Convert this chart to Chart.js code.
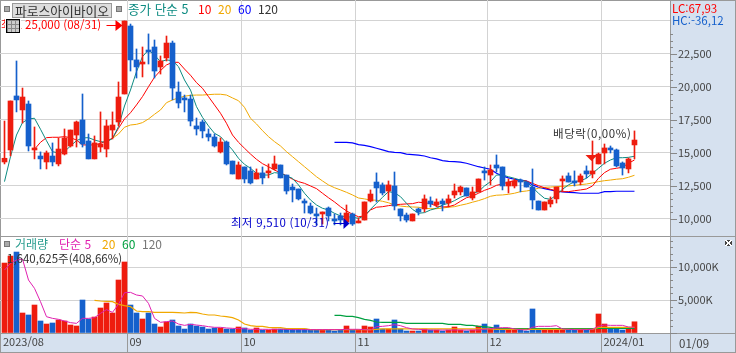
<!DOCTYPE html>
<html lang="ko">
<head>
<meta charset="utf-8">
<title>파로스아이바이오</title>
<script src="https://cdn.jsdelivr.net/npm/chart.js@4"></script>
<style>
html, body { margin: 0; padding: 0; background: #fff; }
#wrap { position: relative; width: 736px; height: 353px; overflow: hidden; font-family: "Noto Sans CJK KR", sans-serif; font-size: 11.5px; line-height: 14px; color: #333; }
#wrap span, #wrap b { position: absolute; white-space: nowrap; font-weight: normal; }
.panel { position: absolute; background: #d6e1ef; }
.line { position: absolute; background: #999; }
canvas { position: absolute; left: 0; }
#priceChart { top: 0; }
#volumeChart { top: 236px; }
#stockName { left: 12px; top: 3px; width: 98px; height: 13px; line-height: 13px; text-align: center; background: #ddd; border: 1px solid #999; font-size: 12.8px; color: #333; }
.sq { width: 4px; height: 4px; background: #aaa; border: 1px solid #777; }
#calendar { left: 6px; top: 19px; width: 12px; height: 12px; border: 1px solid #000; outline: 1px solid #fff; background-color: #ccc;
  background-image: linear-gradient(#888 1px, transparent 1px), linear-gradient(90deg, #888 1px, transparent 1px); background-size: 4px 4px; }
#zoomBtn { left: 725px; top: 240px; width: 7px; height: 6px; background-color: #444;
  background-image: linear-gradient(45deg, transparent 42%, #fff 42%, #fff 58%, transparent 58%), linear-gradient(-45deg, transparent 42%, #fff 42%, #fff 58%, transparent 58%); }
</style>
</head>
<body>
<div id="wrap">
  <div class="panel" style="left:670px;top:0;width:66px;height:353px"></div>
  <div class="panel" style="left:0;top:333px;width:670px;height:20px"></div>
  <div class="line" style="left:0;top:0;width:736px;height:1px"></div>
  <div class="line" style="left:0;top:0;width:1px;height:353px"></div>
  <div class="line" style="left:735px;top:0;width:1px;height:353px"></div>
  <div class="line" style="left:0;top:352px;width:736px;height:1px"></div>
  <div class="line" style="left:670px;top:0;width:1px;height:353px"></div>
  <div class="line" style="left:0;top:236px;width:736px;height:1px"></div>
  <div class="line" style="left:0;top:333px;width:736px;height:1px"></div>

  <canvas id="priceChart" width="736" height="236"></canvas>
  <canvas id="volumeChart" width="736" height="117"></canvas>

  <b class="sq" style="left:4px;top:6px"></b>
  <span id="stockName">파로스아이바이오</span>
  <b class="sq" style="left:116px;top:6px"></b>
  <span style="left:128px;top:2px;color:#0b8a80;font-size:12.6px">종가 단순 5</span>
  <span style="left:198px;top:2px;color:#f00;font-size:12px">10</span>
  <span style="left:218px;top:2px;color:#f0a800;font-size:12px">20</span>
  <span style="left:238px;top:2px;color:#00f;font-size:12px">60</span>
  <span style="left:258px;top:2px;color:#333;font-size:12px">120</span>

  <span style="left:1px;top:17px;color:#f00">최고</span>
  <b id="calendar"></b>
  <span style="left:25px;top:17px;color:#f00">25,000 (08/31)</span>
  <span style="left:231px;top:215px;color:#00c;letter-spacing:.25px">최저 9,510 (10/31)</span>
  <span style="left:553px;top:126px;color:#333;letter-spacing:.6px">배당락(0,00%)</span>

  <span style="left:672px;top:1px;color:#f00">LC:67,93</span>
  <span style="left:672px;top:13px;color:#1560cc">HC:-36,12</span>

  <b class="sq" style="left:4px;top:241px"></b>
  <span style="left:15px;top:237px;color:#2a9d8f;font-size:12px">거래량</span>
  <span style="left:59px;top:237px;color:#e020b0;font-size:12px">단순 5</span>
  <span style="left:102px;top:237px;color:#f0a800;font-size:12px">20</span>
  <span style="left:122px;top:237px;color:#00a040;font-size:12px">60</span>
  <span style="left:142px;top:237px;color:#777;font-size:12px">120</span>
  <span style="left:7px;top:251px;color:#333">1,640,625주(408,66%)</span>
  <b id="zoomBtn"></b>
  <span style="left:679px;top:336px;color:#444">01/09</span>
</div>

<script>
// 일봉 (2023/08 ~ 2024/01)
const opens = [14320,15230,19320,18260,18710,15230,14770,14320,14770,14170,14920,15530,16360,17500,15910,14550,15450,15300,16740,17350,19470,24620,22050,21740,22800,23030,21520,22200,23330,19620,19170,19090,17050,17350,16440,16210,15080,15830,14390,13030,13940,13640,13030,13490,13490,13790,14090,13330,12420,12270,11360,10980,10380,10380,10830,9920,10230,9770,10380,9700,9920,11360,12800,12580,12120,12500,10760,10300,9850,10760,10760,11360,11060,11360,11210,11820,12050,12350,11590,12050,13560,13330,14090,13940,12500,12500,12880,12800,12420,11360,10680,11140,11520,12880,13260,12880,12800,13640,13410,14170,15000,15300,15230,14240,13790,15610];
const highs = [17420,18940,21970,19920,18940,16970,15080,15150,15760,16140,16820,16740,17420,19470,16440,16290,18110,17500,18110,20380,25000,24770,22880,23030,24020,23560,22350,23860,23480,20380,19390,19390,17650,17500,16820,16440,16140,15910,14390,14320,13940,13940,13790,13940,14170,14770,14090,13330,12650,12270,11520,11210,10830,10530,10910,10380,10450,11060,10450,10080,11290,12200,13490,12730,12880,13560,10760,10450,10380,10830,11820,11670,11520,11520,11820,12650,12500,12350,12420,13030,13940,14090,14850,13940,13030,13030,13030,12800,13790,11360,11290,11670,12420,13260,13490,13640,13410,14020,15910,15000,15680,15530,15300,14320,14620,16670];
const lows = [14170,14770,18110,17270,15150,14550,13790,13790,14020,14020,14850,15450,15450,15450,14550,14550,15080,14700,16060,17050,19470,21210,20680,20760,21740,20680,20980,21970,19020,18410,18110,17050,16360,16140,15910,15450,15000,14090,13410,13030,12730,12650,13030,12650,13110,13710,13110,11890,11290,11440,10450,10380,9550,9620,9850,9550,9550,9550,9510,9700,9920,11290,11290,11820,11440,10680,9850,9770,9850,10300,10530,10910,10910,10610,10910,11590,11820,11740,11440,12050,12950,12580,13560,12200,11970,12350,12050,12420,10760,10680,10680,10910,11210,12120,12800,12500,12580,13110,13110,14170,14170,15000,13940,13330,13490,14550];
const closes = [14600,18940,19020,19240,15530,15350,14550,15000,14320,15300,16140,16740,17350,15680,14550,15760,15680,17050,17120,19240,25000,22050,21520,21820,22650,21210,21970,23330,19920,18790,19020,17420,16820,16670,16210,15530,15830,14170,13410,14090,13030,12730,13490,13110,13560,14170,13110,12120,12200,11520,11210,10450,10230,10450,10230,9850,9920,10450,9620,9770,11290,11890,12350,11970,12580,10980,10230,9920,10380,10530,11520,11140,11290,11140,11520,12120,12420,11740,12050,13030,13490,13710,13860,12500,12800,12880,12800,12420,11440,10680,11290,11440,12420,13030,12800,12730,13260,13410,13640,14920,15380,15230,14020,13860,14550,15980];

const ma5 = [12830,14720,16360,17300,17580,17630,16800,15930,15100,15000,15100,15530,15930,16140,16160,15980,15860,15810,16110,16990,18560,19770,21160,22300,22800,22420,21920,22050,21990,21540,20530,19770,18510,17700,17050,16490,16240,15730,15230,14600,14140,13840,13460,13330,13330,13510,13460,13260,13080,12580,11950,11440,11060,10810,10680,10430,10230,10170,10130,10050,10230,10730,11190,11640,12070,11990,11690,11190,10730,10430,10480,10680,10810,11060,11190,11390,11640,11820,11950,12070,12500,12830,13330,13330,13200,13080,12950,12830,12400,11950,11570,11490,11820,12250,12580,12830,12900,13080,13460,13840,14220,14470,14640,14640,14670,14750];
const ma10 = [null,null,null,null,null,15280,15810,16160,16190,16190,16240,16160,15980,15610,15610,15610,15730,15910,16110,16870,17580,18050,18640,19270,20020,20740,21240,21670,21870,21870,21360,20890,20330,19900,19270,18640,18010,17250,16360,15810,15360,14920,14520,14190,13960,13710,13490,13280,13010,12830,12700,12500,12300,11950,11610,11290,10930,10610,10360,10170,10230,10680,10890,10930,11010,11080,11110,11140,11160,11270,11230,11160,10980,10910,10930,11060,11340,11610,11740,11950,12170,12330,12550,12650,12800,12900,12900,12880,12700,12520,12370,12250,12120,12070,12070,12140,12200,12270,12500,13080,13510,13770,13840,13920,14220,14470];
const ma20 = [null,null,null,null,null,null,null,null,null,null,null,null,null,null,null,null,null,15860,16110,16440,16950,17120,17170,17300,17580,17930,18260,18810,19020,19170,19300,19370,19390,19390,19420,19450,19450,19390,19170,18960,18460,17630,17200,16690,16240,15860,15530,15100,14720,14340,13960,13580,13200,12880,12580,12370,12200,12020,11820,11590,11520,11440,11420,11340,11230,11060,10980,10930,10910,10890,10810,10780,10780,10830,10890,10930,11040,11140,11270,11390,11540,11720,11800,11820,11870,11950,12070,12120,12200,12330,12400,12420,12450,12480,12500,12550,12600,12650,12730,12830,12900,12950,13010,13050,13160,13310];
const ma60 = [null,null,null,null,null,null,null,null,null,null,null,null,null,null,null,null,null,null,null,null,null,null,null,null,null,null,null,null,null,null,null,null,null,null,null,null,null,null,null,null,null,null,null,null,null,null,null,null,null,null,null,null,null,null,null,15810,15810,15810,15760,15630,15580,15480,15360,15230,15100,15050,15020,14920,14870,14830,14770,14640,14550,14420,14370,14340,14300,14220,14090,13960,13860,13770,13460,13260,13110,13010,12950,12880,12580,12400,12300,12200,12100,12050,12020,11990,11950,11950,11950,11950,12070,12070,12100,12100,12100,12100];

// 거래량 (단위 K)
const volumes = [10600,11660,12270,3030,2730,4240,1820,1360,1515,1970,1820,1210,1060,5000,2120,2420,3790,4545,3030,8030,10760,4240,3030,2120,3030,1360,910,1670,1970,1060,600,1360,1060,910,600,760,760,600,600,910,760,450,760,450,450,600,600,600,600,600,600,450,450,450,450,300,450,1060,450,450,1060,910,2120,600,600,1970,600,300,300,300,600,450,450,300,450,910,450,300,450,1060,1360,600,1210,450,450,450,450,300,3640,450,450,450,600,600,450,450,450,450,600,2880,1360,600,600,450,760,1700];
const volMa5 = [9540,10550,11060,11210,8030,6770,4750,2470,2220,2070,1820,1570,1460,2220,2220,2320,2980,3540,3130,4340,6110,6160,5760,5610,4490,2220,1620,1720,1820,1360,1160,1310,1210,1110,960,860,860,760,710,660,660,560,560,560,560,560,560,560,510,510,510,510,510,510,510,510,510,560,560,560,510,450,960,1010,1110,1260,1110,810,610,560,510,450,450,450,450,450,450,450,450,450,560,660,760,810,810,610,510,450,860,1010,1010,1010,1110,610,560,510,510,510,560,1010,1210,1160,1160,1160,910,860];
const volMa20 = [null,null,null,null,null,null,null,null,null,null,null,null,null,null,null,4950,4850,4800,4750,4340,4140,3990,3330,3230,3230,3130,3130,3130,3130,3080,3030,3130,3080,2880,2730,2730,2580,2470,2320,1970,1360,1110,1010,1010,860,810,810,660,660,660,660,510,510,510,510,510,510,510,510,510,510,510,560,610,610,610,610,610,610,610,610,610,610,610,610,610,610,610,610,610,610,610,560,560,560,560,560,560,560,560,560,560,560,560,560,560,560,560,560,860,860,860,860,860,860,860];
const volMa60 = [null,null,null,null,null,null,null,null,null,null,null,null,null,null,null,null,null,null,null,null,null,null,null,null,null,null,null,null,null,null,null,null,null,null,null,null,null,null,null,null,null,null,null,null,null,null,null,null,null,null,null,null,null,null,null,2680,2680,2530,2530,2320,2070,1920,1670,1620,1620,1620,1620,1460,1460,1460,1460,1460,1460,1460,1310,1310,1310,1160,1160,1010,960,860,710,660,660,660,660,660,660,660,660,660,660,660,660,660,660,660,660,710,710,710,710,710,710,710];

// 월 구분 (봉 인덱스 사이)
const monthTicks = [-0.58, 20.5, 39.5, 58.5, 80.5, 99.5];
const monthLabels = ['2023/08', '09', '10', '11', '12', '2024/01'];

const priceTicks = [];
for (let v = 10000; v <= 25000; v += 500) priceTicks.push(v);
const volumeTicks = [];
for (let v = 0; v <= 14000; v += 1000) volumeTicks.push(v);

const RED = '#ee1c0e', BLUE = '#1560cc', GRID = '#d3d3d3', TICK = '#888', AXIS_TEXT = '#444';
const FONT = '"Noto Sans CJK KR", sans-serif';
const XMIN = -0.75, XMAX = 110.92;

const toXY = arr => arr.map((y, x) => ({ x, y }));
const upColor = (o, c) => c >= o ? RED : BLUE;
const candleColors = opens.map((o, i) => upColor(o, closes[i]));

function maLine(data, color, order, width) {
    return { type: 'line', data: toXY(data), borderColor: color, borderWidth: width || 1, pointRadius: 0, tension: 0, order, spanGaps: false };
}

// 오른쪽 눈금 (큰 눈금/작은 눈금 길이가 달라서 따로 그림)
function sideTicks(major, stopAt) {
    return {
        id: 'sideTicks',
        afterDraw(chart) {
            const { ctx, scales: { y }, chartArea } = chart;
            ctx.save();
            ctx.strokeStyle = TICK;
            y.ticks.forEach(t => {
                if (stopAt && t.value > stopAt) return;
                const py = Math.round(y.getPixelForValue(t.value)) + 0.5;
                ctx.beginPath();
                ctx.moveTo(chartArea.right, py);
                ctx.lineTo(chartArea.right + (t.value % major === 0 ? 7 : 3), py);
                ctx.stroke();
            });
            ctx.restore();
        }
    };
}

// 최고/최저 화살표, 배당락 표시
const markers = {
    id: 'markers',
    afterDatasetsDraw(chart) {
        const { ctx, scales: { x, y } } = chart;
        ctx.save();
        // 최고가
        const hx = x.getPixelForValue(20) - 2, hy = Math.round(y.getPixelForValue(25000)) + 4;
        ctx.fillStyle = ctx.strokeStyle = '#f00';
        ctx.beginPath(); ctx.moveTo(hx - 16, hy + 0.5); ctx.lineTo(hx - 6, hy + 0.5); ctx.stroke();
        ctx.beginPath(); ctx.moveTo(hx - 7, hy - 5); ctx.lineTo(hx, hy + 0.5); ctx.lineTo(hx - 7, hy + 6); ctx.fill();
        // 최저가
        const lx = x.getPixelForValue(58) - 4, ly = Math.round(y.getPixelForValue(9510)) - 2;
        ctx.fillStyle = ctx.strokeStyle = '#00c';
        ctx.beginPath(); ctx.moveTo(lx - 15, ly + 0.5); ctx.lineTo(lx - 4, ly + 0.5); ctx.stroke();
        ctx.beginPath(); ctx.moveTo(lx - 5, ly - 5); ctx.lineTo(lx + 1, ly + 0.5); ctx.lineTo(lx - 5, ly + 6); ctx.fill();
        // 배당락
        const dx = x.getPixelForValue(98) - 1, dy = y.getPixelForValue(14850);
        ctx.fillStyle = RED;
        ctx.beginPath(); ctx.moveTo(dx - 6, dy); ctx.lineTo(dx + 6, dy); ctx.lineTo(dx, dy + 6); ctx.fill();
        ctx.restore();
    }
};

function noPadding(s) {
    s.paddingTop = s.paddingBottom = s.paddingLeft = s.paddingRight = 0;
}

function baseXAxis(showLabels) {
    return {
        type: 'linear', min: XMIN, max: XMAX, offset: false,
        afterBuildTicks: s => { s.ticks = monthTicks.map(value => ({ value })); },
        afterFit: s => { s.height = showLabels ? 20 : 0; noPadding(s); },
        border: { display: false },
        grid: {
            offset: false,
            color: c => c.index === 0 ? 'transparent' : GRID,
            tickColor: c => c.index === 0 ? 'transparent' : '#999',
            drawTicks: showLabels, tickLength: 20
        },
        ticks: {
            display: showLabels, autoSkip: false, maxRotation: 0, align: 'start', labelOffset: 2, padding: -18,
            color: AXIS_TEXT, font: { family: FONT, size: 11 },
            callback: (v, i) => monthLabels[i]
        }
    };
}

function baseYAxis(tickValues, min, max, labelEvery, fmt, gridFrom) {
    return {
        position: 'right', min, max,
        afterBuildTicks: s => { s.ticks = tickValues.map(value => ({ value })); },
        afterFit: s => { s.width = 66; noPadding(s); },
        border: { display: false },
        grid: {
            drawTicks: false,
            color: c => (c.tick.value % labelEvery === 0 && c.tick.value >= gridFrom) ? GRID : 'transparent'
        },
        ticks: {
            autoSkip: false, padding: 8, color: AXIS_TEXT, font: { family: FONT, size: 11 },
            callback: fmt
        }
    };
}

const commonOptions = {
    responsive: false, animation: false, events: [],
    layout: { padding: 0, autoPadding: false },
    plugins: { legend: { display: false }, tooltip: { enabled: false } }
};

new Chart(document.getElementById('priceChart'), {
    data: {
        datasets: [
            { type: 'bar', data: opens.map((o, i) => ({ x: i, y: [o, closes[i]] })), backgroundColor: candleColors, barThickness: 5, minBarLength: 2, grouped: false, order: 0 },
            { type: 'bar', data: highs.map((h, i) => ({ x: i, y: [lows[i], h] })), backgroundColor: candleColors, barThickness: 1, grouped: false, order: 1 },
            maLine(ma5, '#0b8a80', 2),
            maLine(ma10, '#f00', 3),
            maLine(ma20, '#f0a800', 4),
            maLine(ma60, '#00f', 5, 1.2)
        ]
    },
    options: {
        ...commonOptions,
        scales: {
            x: baseXAxis(false),
            y: baseYAxis(priceTicks, 8710, 26590, 2500, v => (v % 2500 === 0 && v < 25000) ? v.toLocaleString('en-US') : '', 10000)
        }
    },
    plugins: [sideTicks(2500, 24000), markers]
});

new Chart(document.getElementById('volumeChart'), {
    data: {
        datasets: [
            { type: 'bar', data: toXY(volumes), backgroundColor: candleColors, barThickness: 5, grouped: false, order: 5 },
            maLine(volMa5, '#e020b0', 2),
            maLine(volMa20, '#f0a800', 3, 1.2),
            maLine(volMa60, '#00a040', 4, 1.2)
        ]
    },
    options: {
        ...commonOptions,
        scales: {
            x: baseXAxis(true),
            y: baseYAxis(volumeTicks, 0, 14700, 5000, v => (v > 0 && v % 5000 === 0) ? v.toLocaleString('en-US') + 'K' : '', 5000)
        }
    },
    plugins: [sideTicks(5000)]
});
</script>
</body>
</html>
